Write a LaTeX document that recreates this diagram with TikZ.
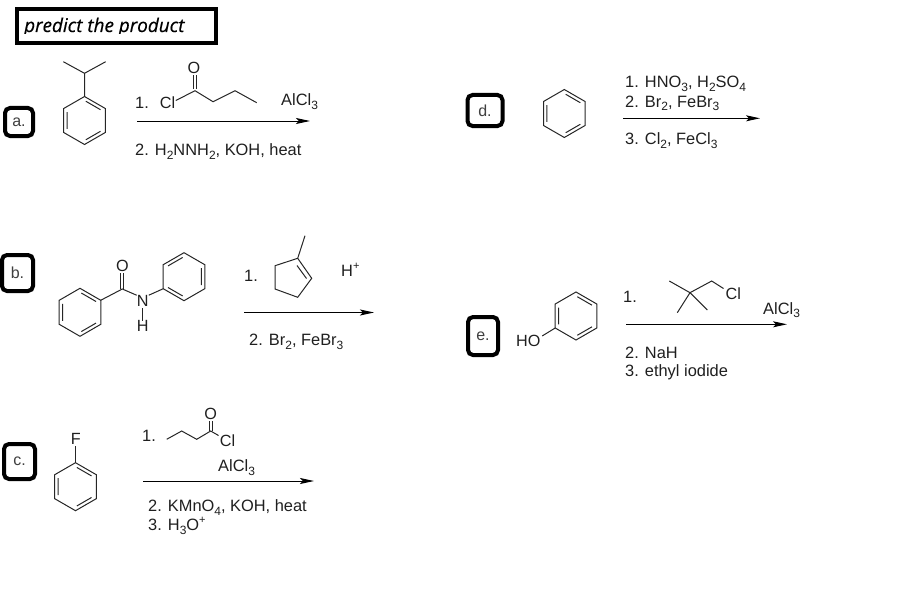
\documentclass[tikz,border=0pt]{standalone}
\usepackage{fontspec}
\setmainfont{Liberation Sans}
\newfontfamily\titlefont[ItalicFeatures={FakeBold=0.5}]{Open Sans}
\usetikzlibrary{arrows.meta}
\newcommand{\dn}[1]{\raisebox{-0.22em}{\fontsize{12}{12}\selectfont #1}}
\newcommand{\hi}[1]{\raisebox{0.4em}{\fontsize{11}{11}\selectfont #1}}
\tikzset{
  txt/.style={anchor=base west,inner sep=0pt,font=\fontsize{16.4}{16.4}\selectfont,text=black!88},
  atom/.style={anchor=center,inner sep=0pt,font=\fontsize{16.2}{16.2}\selectfont,text=black!88},
  tag/.style={draw=black,line width=4pt,rounded corners=5pt,fill=white,inner sep=0pt,
     font=\fontsize{16}{16}\selectfont,text=black!75},
  bond/.style={line width=1pt,black!85},
  rxn/.style={line width=1pt,-{Stealth[length=14pt,width=6pt,inset=3pt]}},
  benz/.pic={
    \draw[bond,line join=miter] (90:24)--(30:24)--(-30:24)--(-90:24)--(-150:24)--(150:24)--cycle;
    \draw[bond] (34:19.3)--(86:19.3) (154:19.3)--(206:19.3) (-34:19.3)--(-86:19.3);
  }
}
\begin{document}
\begin{tikzpicture}[x=1pt,y=-1pt]
\path[use as bounding box] (0,0) rectangle (903,610);
% title
\begin{scope}
\clip (15,7) rectangle (218,33.4);
\node[anchor=base west,inner sep=0pt,font=\titlefont\itshape\fontsize{18.9}{18.9}\selectfont] (title) at (24,32) {predict the product};
\end{scope}
\node[draw=black,line width=4pt,minimum width=199pt,minimum height=34pt,inner sep=0pt] (titlebox) at (116.5,26) {};
% tags
\node[tag,minimum width=28pt,minimum height=28pt] (taga) at (19,122) {a.};
\node[tag,minimum width=31pt,minimum height=36pt] (tagb) at (17.5,273) {b.};
\node[tag,minimum width=31pt,minimum height=35pt] (tagc) at (19.5,461.5) {c.};
\node[tag,minimum width=35pt,minimum height=31pt] (tagd) at (485,110.5) {d.};
\node[tag,minimum width=30pt,minimum height=38pt] (tage) at (483,336) {e.};
% a
\pic at (84.5,120.5) {benz};
\draw[bond] (84.5,96.5)--(84.5,73.3) (63.3,61.7)--(84.5,73.3)--(105.7,61.7);
\node[atom] (aCl) at (167.5,103) {Cl};
\node[atom] (aO) at (194,68) {O};
\draw[bond] (aCl.east)++(0.5,-2.5)--(195,90.7)--(213,101.7)--(235,90.7)--(256.7,102.7);
\draw[bond] (193,88.7)--(193,75.5) (196,88.7)--(196,75.5);
\node[txt] (a1) at (135,108.5) {1.};
\node[txt] (a2) at (281,105.5) {AlCl\dn{3}};
\node[txt] (a3) at (135,155.5) {2. H\dn{2}NNH\dn{2}, KOH, heat};
\coordinate (as) at (137,121); \coordinate (ae) at (310,121);
\draw[rxn] (as)--(ae);
% b
\pic at (80,312.3) {benz};
\pic[xscale=-1] at (184,276.7) {benz};
\node[atom] (bO) at (122.3,265.7) {O};
\node[atom] (bN) at (142.7,301) {N};
\node[atom] (bH) at (142.7,325.7) {H};
\draw[bond] (100.7,300.3)--(122.3,289)--(bN.north west);
\draw[bond] (bN.north east)--(163.3,288.7);
\draw[bond] (120.8,289)--(120.8,273) (123.8,289)--(123.8,273);
\draw[bond] (bN.south)++(0,1.5)--([yshift=-1.5pt]bH.north);
\draw[bond,line join=miter] (297.7,258.3)--(311.7,278.3)--(297.7,297.3)--(275,289)--(275,265.7)--cycle;
\draw[bond] (297.7,258.3)--(305,235.7) (297,265.5)--(306.5,278.5);
\node[txt] (b1) at (244,281.5) {1.};
\node[txt] (b2) at (341,276.5) {H\hi{+}};
\node[txt] (b3) at (249,345.5) {2. Br\dn{2}, FeBr\dn{3}};
\coordinate (bs) at (244,312.5); \coordinate (be) at (374,312.5);
\draw[rxn] (bs)--(be);
% c
\pic at (75.5,486.7) {benz};
\node[atom] (cF) at (75.7,439.3) {F};
\draw[bond] (cF.south)++(0,1)--(75.7,462.7);
\node[atom] (cCl) at (227.5,441) {Cl};
\node[atom] (cO) at (210.7,414) {O};
\draw[bond] (166.7,439.3)--(181.7,431)--(196.7,439.3)--(210.7,431)--(218.5,435.5);
\draw[bond] (209.2,431)--(209.2,421) (212.2,431)--(212.2,421);
\node[txt] (c1) at (142,441.5) {1.};
\node[txt] (c2) at (218,471.5) {AlCl\dn{3}};
\node[txt] (c3) at (148,511.5) {2. KMnO\dn{4}, KOH, heat};
\node[txt] (c4) at (148,530.5) {3. H\dn{3}O\hi{+}};
\coordinate (cs) at (143,481); \coordinate (ce) at (314,481);
\draw[rxn] (cs)--(ce);
% d
\pic at (564.3,113.5) {benz};
\node[txt] (d1) at (625,87.5) {1. HNO\dn{3}, H\dn{2}SO\dn{4}};
\node[txt] (d2) at (625,107) {2. Br\dn{2}, FeBr\dn{3}};
\node[txt] (d3) at (625,144.5) {3. Cl\dn{2}, FeCl\dn{3}};
\coordinate (ds) at (623,118.3); \coordinate (de) at (760,118.3);
\draw[rxn] (ds)--(de);
% e
\pic at (576,316) {benz};
\node[atom] (eHO) at (528.3,340.7) {HO};
\draw[bond] (eHO.east)++(1.5,-4.7)--(555.2,328);
\node[atom] (eCl) at (733.3,294) {Cl};
\draw[bond] (669.3,281)--(690,292.7)--(711.7,281)--(723.5,288.5);
\draw[bond] (677.3,312.7)--(690,292.7)--(707.3,310);
\node[txt] (e1) at (623,302.5) {1.};
\node[txt] (e2) at (763,314) {AlCl\dn{3}};
\node[txt] (e3) at (625,358.5) {2. NaH};
\node[txt] (e4) at (625,376.5) {3. ethyl iodide};
\coordinate (es) at (626,324.3); \coordinate (ee) at (787,324.3);
\draw[rxn] (es)--(ee);
\end{tikzpicture}
\end{document}
